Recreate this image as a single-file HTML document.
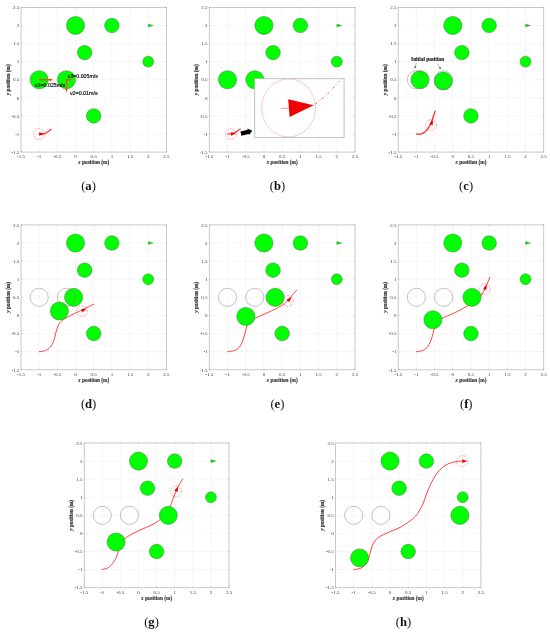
<!DOCTYPE html><html><head><meta charset="utf-8"><title>Figure</title><style>html,body{margin:0;padding:0;background:#fff}svg{display:block}text{font-family:"Liberation Serif",serif}</style></head><body>
<svg width="550" height="634" viewBox="0 0 550 634">
<rect width="550" height="634" fill="#fff"/>
<g id="plot-a">
<clipPath id="cpa"><rect x="21.00" y="7.40" width="145.40" height="144.70"/></clipPath>
<path d="M39.17 7.40 V152.10 M21.00 134.01 H166.40 M57.35 7.40 V152.10 M21.00 115.92 H166.40 M75.53 7.40 V152.10 M21.00 97.84 H166.40 M93.70 7.40 V152.10 M21.00 79.75 H166.40 M111.88 7.40 V152.10 M21.00 61.66 H166.40 M130.05 7.40 V152.10 M21.00 43.58 H166.40 M148.23 7.40 V152.10 M21.00 25.49 H166.40" stroke="#efefef" stroke-width="0.5" fill="none"/>
<g clip-path="url(#cpa)">
<path d="M39.17 134.01 C39.60 134.01 40.81 134.10 41.72 134.01 C42.63 133.92 43.60 133.83 44.63 133.47 C45.66 133.11 46.81 132.54 47.90 131.84 C48.99 131.15 50.63 129.73 51.17 129.31" stroke="#ff2222" stroke-width="1.2" fill="none" stroke-linecap="round"/>
<ellipse cx="75.53" cy="25.49" rx="9.09" ry="9.04" fill="#00ff00" stroke="#3f7a3f" stroke-width="0.5"/>
<ellipse cx="111.88" cy="25.49" rx="7.27" ry="7.23" fill="#00ff00" stroke="#3f7a3f" stroke-width="0.5"/>
<ellipse cx="84.61" cy="52.62" rx="7.27" ry="7.23" fill="#00ff00" stroke="#3f7a3f" stroke-width="0.5"/>
<ellipse cx="148.23" cy="61.66" rx="5.45" ry="5.43" fill="#00ff00" stroke="#3f7a3f" stroke-width="0.5"/>
<ellipse cx="93.70" cy="115.92" rx="7.27" ry="7.23" fill="#00ff00" stroke="#3f7a3f" stroke-width="0.5"/>
<ellipse cx="39.17" cy="79.75" rx="9.09" ry="9.04" fill="#00ff00" stroke="#3f7a3f" stroke-width="0.5"/>
<ellipse cx="66.44" cy="79.75" rx="9.09" ry="9.04" fill="#00ff00" stroke="#3f7a3f" stroke-width="0.5"/>
<path d="M148.23 23.90 L153.31 25.49 L148.23 27.08 Z" fill="#00e000" stroke="#3f7a3f" stroke-width="0.3"/>
<ellipse cx="39.17" cy="134.01" rx="5.45" ry="5.43" fill="none" stroke="#ff3030" stroke-width="0.45" stroke-dasharray="1.6 1.1"/>
<path d="M39.17 132.20 L44.26 134.01 L39.17 135.82 Z" fill="#f00000"/>
</g>
<path d="M39.17 79.75 H50.08" stroke="#e8501c" stroke-width="1.5" fill="none"/>
<path d="M52.99 79.75 l-3 -1.4 v2.8 Z" fill="#e8501c"/>
<path d="M65.71 79.75 H69.71" stroke="#e8501c" stroke-width="1.5" fill="none"/>
<path d="M71.89 79.75 l-2.4 -1.3 v2.6 Z" fill="#e8501c"/>
<path d="M66.44 79.75 V89.16" stroke="#e8501c" stroke-width="1.5" fill="none"/>
<path d="M66.44 92.05 l-1.4 -3 h2.8 Z" fill="#e8501c"/>
<text x="35.0" y="86.9" style="font-family:'Liberation Sans',sans-serif;font-size:4.9px;fill:#111;stroke:#111;stroke-width:0.18px" textLength="30.2" lengthAdjust="spacingAndGlyphs">v1=0.025m/s</text>
<text x="67.8" y="78.2" style="font-family:'Liberation Sans',sans-serif;font-size:4.9px;fill:#111;stroke:#111;stroke-width:0.18px" textLength="30" lengthAdjust="spacingAndGlyphs">v3=0.005m/s</text>
<text x="69.9" y="95.1" style="font-family:'Liberation Sans',sans-serif;font-size:4.9px;fill:#111;stroke:#111;stroke-width:0.18px" textLength="27.8" lengthAdjust="spacingAndGlyphs">v2=0.01m/s</text>
<rect x="21.00" y="7.40" width="145.40" height="144.70" fill="none" stroke="#bcbcbc" stroke-width="0.8"/>
<path d="M21.00 152.10 v-1.2 M21.00 7.40 v1.2 M21.00 152.10 h1.2 M166.40 152.10 h-1.2 M39.17 152.10 v-1.2 M39.17 7.40 v1.2 M21.00 134.01 h1.2 M166.40 134.01 h-1.2 M57.35 152.10 v-1.2 M57.35 7.40 v1.2 M21.00 115.92 h1.2 M166.40 115.92 h-1.2 M75.53 152.10 v-1.2 M75.53 7.40 v1.2 M21.00 97.84 h1.2 M166.40 97.84 h-1.2 M93.70 152.10 v-1.2 M93.70 7.40 v1.2 M21.00 79.75 h1.2 M166.40 79.75 h-1.2 M111.88 152.10 v-1.2 M111.88 7.40 v1.2 M21.00 61.66 h1.2 M166.40 61.66 h-1.2 M130.05 152.10 v-1.2 M130.05 7.40 v1.2 M21.00 43.58 h1.2 M166.40 43.58 h-1.2 M148.23 152.10 v-1.2 M148.23 7.40 v1.2 M21.00 25.49 h1.2 M166.40 25.49 h-1.2 M166.40 152.10 v-1.2 M166.40 7.40 v1.2 M21.00 7.40 h1.2 M166.40 7.40 h-1.2" stroke="#999" stroke-width="0.35" fill="none"/>
<text x="21.00" y="158.30" text-anchor="middle" style="font-size:5.0px;fill:#303030">-1.5</text>
<text x="19.30" y="153.80" text-anchor="end" style="font-size:5.0px;fill:#303030">-1.5</text>
<text x="39.17" y="158.30" text-anchor="middle" style="font-size:5.0px;fill:#303030">-1</text>
<text x="19.30" y="135.71" text-anchor="end" style="font-size:5.0px;fill:#303030">-1</text>
<text x="57.35" y="158.30" text-anchor="middle" style="font-size:5.0px;fill:#303030">-0.5</text>
<text x="19.30" y="117.62" text-anchor="end" style="font-size:5.0px;fill:#303030">-0.5</text>
<text x="75.53" y="158.30" text-anchor="middle" style="font-size:5.0px;fill:#303030">0</text>
<text x="19.30" y="99.54" text-anchor="end" style="font-size:5.0px;fill:#303030">0</text>
<text x="93.70" y="158.30" text-anchor="middle" style="font-size:5.0px;fill:#303030">0.5</text>
<text x="19.30" y="81.45" text-anchor="end" style="font-size:5.0px;fill:#303030">0.5</text>
<text x="111.88" y="158.30" text-anchor="middle" style="font-size:5.0px;fill:#303030">1</text>
<text x="19.30" y="63.36" text-anchor="end" style="font-size:5.0px;fill:#303030">1</text>
<text x="130.05" y="158.30" text-anchor="middle" style="font-size:5.0px;fill:#303030">1.5</text>
<text x="19.30" y="45.28" text-anchor="end" style="font-size:5.0px;fill:#303030">1.5</text>
<text x="148.23" y="158.30" text-anchor="middle" style="font-size:5.0px;fill:#303030">2</text>
<text x="19.30" y="27.19" text-anchor="end" style="font-size:5.0px;fill:#303030">2</text>
<text x="166.40" y="158.30" text-anchor="middle" style="font-size:5.0px;fill:#303030">2.5</text>
<text x="19.30" y="9.10" text-anchor="end" style="font-size:5.0px;fill:#303030">2.5</text>
<text x="93.70" y="164.10" text-anchor="middle" style="font-size:5.3px;font-weight:bold;fill:#303030;stroke:#303030;stroke-width:0.12px"><tspan style="font-style:italic">x</tspan> position (m)</text>
<text transform="translate(9.80 79.75) rotate(-90)" text-anchor="middle" style="font-size:5.3px;font-weight:bold;fill:#303030;stroke:#303030;stroke-width:0.12px"><tspan style="font-style:italic">y</tspan> position (m)</text>
<text x="88.50" y="190.20" text-anchor="middle" style="font-size:12.6px;fill:#111">(<tspan style="font-weight:bold">a</tspan>)</text>
</g>
<g id="plot-b">
<clipPath id="cpb"><rect x="209.30" y="7.40" width="145.70" height="144.70"/></clipPath>
<path d="M227.51 7.40 V152.10 M209.30 134.01 H355.00 M245.73 7.40 V152.10 M209.30 115.92 H355.00 M263.94 7.40 V152.10 M209.30 97.84 H355.00 M282.15 7.40 V152.10 M209.30 79.75 H355.00 M300.36 7.40 V152.10 M209.30 61.66 H355.00 M318.57 7.40 V152.10 M209.30 43.58 H355.00 M336.79 7.40 V152.10 M209.30 25.49 H355.00" stroke="#efefef" stroke-width="0.5" fill="none"/>
<g clip-path="url(#cpb)">
<path d="M227.51 134.01 C228.12 133.98 229.94 134.07 231.16 133.83 C232.37 133.59 233.70 133.08 234.80 132.57 C235.89 132.05 236.83 131.36 237.71 130.76 C238.59 130.15 239.68 129.25 240.08 128.95" stroke="#ff2222" stroke-width="1.2" fill="none" stroke-linecap="round"/>
<ellipse cx="263.94" cy="25.49" rx="9.11" ry="9.04" fill="#00ff00" stroke="#3f7a3f" stroke-width="0.5"/>
<ellipse cx="300.36" cy="25.49" rx="7.29" ry="7.23" fill="#00ff00" stroke="#3f7a3f" stroke-width="0.5"/>
<ellipse cx="273.04" cy="52.62" rx="7.29" ry="7.23" fill="#00ff00" stroke="#3f7a3f" stroke-width="0.5"/>
<ellipse cx="336.79" cy="61.66" rx="5.46" ry="5.43" fill="#00ff00" stroke="#3f7a3f" stroke-width="0.5"/>
<ellipse cx="282.15" cy="115.92" rx="7.29" ry="7.23" fill="#00ff00" stroke="#3f7a3f" stroke-width="0.5"/>
<ellipse cx="227.51" cy="79.75" rx="9.11" ry="9.04" fill="#00ff00" stroke="#3f7a3f" stroke-width="0.5"/>
<ellipse cx="254.83" cy="79.75" rx="9.11" ry="9.04" fill="#00ff00" stroke="#3f7a3f" stroke-width="0.5"/>
<path d="M336.79 23.90 L341.89 25.49 L336.79 27.08 Z" fill="#00e000" stroke="#3f7a3f" stroke-width="0.3"/>
<ellipse cx="230.94" cy="134.01" rx="5.46" ry="5.43" fill="none" stroke="#ff3030" stroke-width="0.45" stroke-dasharray="1.6 1.1"/>
<path d="M230.78 132.21 L236.02 133.57 L231.10 135.81 Z" fill="#f00000"/>
</g>
<path d="M240.9 133.6 L241.4 135.7 L248.7 133.9 L249.0 135.1 L252.2 130.7 L247.4 128.5 L247.7 129.8 L240.4 131.6 Z" fill="#000"/>
<rect x="254.7" y="78.7" width="89.4" height="58.7" fill="#fff" stroke="#b8b8b8" stroke-width="0.9"/>
<clipPath id="cpin"><rect x="255.1" y="79.1" width="88.6" height="57.9"/></clipPath>
<g clip-path="url(#cpin)">
<ellipse cx="288.6" cy="107.9" rx="26.8" ry="29.0" fill="none" stroke="#ff3030" stroke-width="0.45" stroke-dasharray="1.2 0.8"/>
<path d="M280.9 108.3 H288.8" stroke="#ff2020" stroke-width="0.5"/>
<path d="M313.6 105.3 Q325 97 339.1 81.5" stroke="#ff3030" stroke-width="0.4" stroke-dasharray="1 0.8" fill="none"/>
<circle cx="316.4" cy="103.3" r="0.55" fill="#ff3030"/>
<circle cx="322.7" cy="98.3" r="0.55" fill="#ff3030"/>
<circle cx="328.2" cy="93.3" r="0.55" fill="#ff3030"/>
<circle cx="333.6" cy="87.6" r="0.55" fill="#ff3030"/>
<circle cx="339.1" cy="81.5" r="0.55" fill="#ff3030"/>
<path d="M288.2 99.3 L313.6 105.3 L289.6 116.9 Z" fill="#f00000"/>
</g>
<rect x="209.30" y="7.40" width="145.70" height="144.70" fill="none" stroke="#bcbcbc" stroke-width="0.8"/>
<path d="M209.30 152.10 v-1.2 M209.30 7.40 v1.2 M209.30 152.10 h1.2 M355.00 152.10 h-1.2 M227.51 152.10 v-1.2 M227.51 7.40 v1.2 M209.30 134.01 h1.2 M355.00 134.01 h-1.2 M245.73 152.10 v-1.2 M245.73 7.40 v1.2 M209.30 115.92 h1.2 M355.00 115.92 h-1.2 M263.94 152.10 v-1.2 M263.94 7.40 v1.2 M209.30 97.84 h1.2 M355.00 97.84 h-1.2 M282.15 152.10 v-1.2 M282.15 7.40 v1.2 M209.30 79.75 h1.2 M355.00 79.75 h-1.2 M300.36 152.10 v-1.2 M300.36 7.40 v1.2 M209.30 61.66 h1.2 M355.00 61.66 h-1.2 M318.57 152.10 v-1.2 M318.57 7.40 v1.2 M209.30 43.58 h1.2 M355.00 43.58 h-1.2 M336.79 152.10 v-1.2 M336.79 7.40 v1.2 M209.30 25.49 h1.2 M355.00 25.49 h-1.2 M355.00 152.10 v-1.2 M355.00 7.40 v1.2 M209.30 7.40 h1.2 M355.00 7.40 h-1.2" stroke="#999" stroke-width="0.35" fill="none"/>
<text x="209.30" y="158.30" text-anchor="middle" style="font-size:5.0px;fill:#303030">-1.5</text>
<text x="207.60" y="153.80" text-anchor="end" style="font-size:5.0px;fill:#303030">-1.5</text>
<text x="227.51" y="158.30" text-anchor="middle" style="font-size:5.0px;fill:#303030">-1</text>
<text x="207.60" y="135.71" text-anchor="end" style="font-size:5.0px;fill:#303030">-1</text>
<text x="245.73" y="158.30" text-anchor="middle" style="font-size:5.0px;fill:#303030">-0.5</text>
<text x="207.60" y="117.62" text-anchor="end" style="font-size:5.0px;fill:#303030">-0.5</text>
<text x="263.94" y="158.30" text-anchor="middle" style="font-size:5.0px;fill:#303030">0</text>
<text x="207.60" y="99.54" text-anchor="end" style="font-size:5.0px;fill:#303030">0</text>
<text x="282.15" y="158.30" text-anchor="middle" style="font-size:5.0px;fill:#303030">0.5</text>
<text x="207.60" y="81.45" text-anchor="end" style="font-size:5.0px;fill:#303030">0.5</text>
<text x="300.36" y="158.30" text-anchor="middle" style="font-size:5.0px;fill:#303030">1</text>
<text x="207.60" y="63.36" text-anchor="end" style="font-size:5.0px;fill:#303030">1</text>
<text x="318.57" y="158.30" text-anchor="middle" style="font-size:5.0px;fill:#303030">1.5</text>
<text x="207.60" y="45.28" text-anchor="end" style="font-size:5.0px;fill:#303030">1.5</text>
<text x="336.79" y="158.30" text-anchor="middle" style="font-size:5.0px;fill:#303030">2</text>
<text x="207.60" y="27.19" text-anchor="end" style="font-size:5.0px;fill:#303030">2</text>
<text x="355.00" y="158.30" text-anchor="middle" style="font-size:5.0px;fill:#303030">2.5</text>
<text x="207.60" y="9.10" text-anchor="end" style="font-size:5.0px;fill:#303030">2.5</text>
<text x="282.15" y="164.10" text-anchor="middle" style="font-size:5.3px;font-weight:bold;fill:#303030;stroke:#303030;stroke-width:0.12px"><tspan style="font-style:italic">x</tspan> position (m)</text>
<text transform="translate(198.10 79.75) rotate(-90)" text-anchor="middle" style="font-size:5.3px;font-weight:bold;fill:#303030;stroke:#303030;stroke-width:0.12px"><tspan style="font-style:italic">y</tspan> position (m)</text>
<text x="277.40" y="190.20" text-anchor="middle" style="font-size:12.6px;fill:#111">(<tspan style="font-weight:bold">b</tspan>)</text>
</g>
<g id="plot-c">
<clipPath id="cpc"><rect x="398.20" y="7.40" width="145.50" height="144.70"/></clipPath>
<path d="M416.39 7.40 V152.10 M398.20 134.01 H543.70 M434.57 7.40 V152.10 M398.20 115.92 H543.70 M452.76 7.40 V152.10 M398.20 97.84 H543.70 M470.95 7.40 V152.10 M398.20 79.75 H543.70 M489.14 7.40 V152.10 M398.20 61.66 H543.70 M507.33 7.40 V152.10 M398.20 43.58 H543.70 M525.51 7.40 V152.10 M398.20 25.49 H543.70" stroke="#efefef" stroke-width="0.5" fill="none"/>
<g clip-path="url(#cpc)">
<path d="M416.39 134.01 C417.18 134.01 419.60 134.43 421.12 134.01 C422.63 133.59 424.18 132.63 425.48 131.48 C426.78 130.33 427.90 128.77 428.90 127.14 C429.90 125.51 430.70 123.64 431.48 121.71 C432.27 119.78 432.96 117.34 433.59 115.56 C434.23 113.78 435.02 111.80 435.30 111.04" stroke="#ff2222" stroke-width="1.2" fill="none" stroke-linecap="round"/>
<ellipse cx="452.76" cy="25.49" rx="9.09" ry="9.04" fill="#00ff00" stroke="#3f7a3f" stroke-width="0.5"/>
<ellipse cx="489.14" cy="25.49" rx="7.28" ry="7.23" fill="#00ff00" stroke="#3f7a3f" stroke-width="0.5"/>
<ellipse cx="461.86" cy="52.62" rx="7.28" ry="7.23" fill="#00ff00" stroke="#3f7a3f" stroke-width="0.5"/>
<ellipse cx="525.51" cy="61.66" rx="5.46" ry="5.43" fill="#00ff00" stroke="#3f7a3f" stroke-width="0.5"/>
<ellipse cx="470.95" cy="115.92" rx="7.28" ry="7.23" fill="#00ff00" stroke="#3f7a3f" stroke-width="0.5"/>
<ellipse cx="420.02" cy="79.75" rx="9.09" ry="9.04" fill="#00ff00" stroke="#3f7a3f" stroke-width="0.5"/>
<ellipse cx="443.31" cy="81.05" rx="9.09" ry="9.04" fill="#00ff00" stroke="#3f7a3f" stroke-width="0.5"/>
<ellipse cx="416.39" cy="79.75" rx="9.09" ry="9.04" fill="none" stroke="#7a7a7a" stroke-width="0.45"/>
<ellipse cx="443.67" cy="79.75" rx="9.09" ry="9.04" fill="none" stroke="#7a7a7a" stroke-width="0.45"/>
<path d="M525.51 23.90 L530.61 25.49 L525.51 27.08 Z" fill="#00e000" stroke="#3f7a3f" stroke-width="0.3"/>
<ellipse cx="430.94" cy="124.79" rx="5.46" ry="5.43" fill="none" stroke="#ff3030" stroke-width="0.45" stroke-dasharray="1.6 1.1"/>
<path d="M429.29 124.02 L433.09 120.20 L432.59 125.55 Z" fill="#f00000"/>
</g>
<text x="411.1" y="61.2" style="font-size:5.1px;font-weight:bold;fill:#222;stroke:#222;stroke-width:0.15px" textLength="33" lengthAdjust="spacingAndGlyphs">Initial position</text>
<path d="M416.3 62.9 L415.3 67.0" stroke="#222" stroke-width="0.3"/><path d="M414.9 68.6 l-0.6 -2.3 l1.9 0.4 Z" fill="#222"/>
<path d="M437.4 63.4 L439.9 67.8" stroke="#222" stroke-width="0.3"/><path d="M440.7 69.2 l-1.9 -1.4 l1.7 -0.9 Z" fill="#222"/>
<rect x="398.20" y="7.40" width="145.50" height="144.70" fill="none" stroke="#bcbcbc" stroke-width="0.8"/>
<path d="M398.20 152.10 v-1.2 M398.20 7.40 v1.2 M398.20 152.10 h1.2 M543.70 152.10 h-1.2 M416.39 152.10 v-1.2 M416.39 7.40 v1.2 M398.20 134.01 h1.2 M543.70 134.01 h-1.2 M434.57 152.10 v-1.2 M434.57 7.40 v1.2 M398.20 115.92 h1.2 M543.70 115.92 h-1.2 M452.76 152.10 v-1.2 M452.76 7.40 v1.2 M398.20 97.84 h1.2 M543.70 97.84 h-1.2 M470.95 152.10 v-1.2 M470.95 7.40 v1.2 M398.20 79.75 h1.2 M543.70 79.75 h-1.2 M489.14 152.10 v-1.2 M489.14 7.40 v1.2 M398.20 61.66 h1.2 M543.70 61.66 h-1.2 M507.33 152.10 v-1.2 M507.33 7.40 v1.2 M398.20 43.58 h1.2 M543.70 43.58 h-1.2 M525.51 152.10 v-1.2 M525.51 7.40 v1.2 M398.20 25.49 h1.2 M543.70 25.49 h-1.2 M543.70 152.10 v-1.2 M543.70 7.40 v1.2 M398.20 7.40 h1.2 M543.70 7.40 h-1.2" stroke="#999" stroke-width="0.35" fill="none"/>
<text x="398.20" y="158.30" text-anchor="middle" style="font-size:5.0px;fill:#303030">-1.5</text>
<text x="396.50" y="153.80" text-anchor="end" style="font-size:5.0px;fill:#303030">-1.5</text>
<text x="416.39" y="158.30" text-anchor="middle" style="font-size:5.0px;fill:#303030">-1</text>
<text x="396.50" y="135.71" text-anchor="end" style="font-size:5.0px;fill:#303030">-1</text>
<text x="434.57" y="158.30" text-anchor="middle" style="font-size:5.0px;fill:#303030">-0.5</text>
<text x="396.50" y="117.62" text-anchor="end" style="font-size:5.0px;fill:#303030">-0.5</text>
<text x="452.76" y="158.30" text-anchor="middle" style="font-size:5.0px;fill:#303030">0</text>
<text x="396.50" y="99.54" text-anchor="end" style="font-size:5.0px;fill:#303030">0</text>
<text x="470.95" y="158.30" text-anchor="middle" style="font-size:5.0px;fill:#303030">0.5</text>
<text x="396.50" y="81.45" text-anchor="end" style="font-size:5.0px;fill:#303030">0.5</text>
<text x="489.14" y="158.30" text-anchor="middle" style="font-size:5.0px;fill:#303030">1</text>
<text x="396.50" y="63.36" text-anchor="end" style="font-size:5.0px;fill:#303030">1</text>
<text x="507.33" y="158.30" text-anchor="middle" style="font-size:5.0px;fill:#303030">1.5</text>
<text x="396.50" y="45.28" text-anchor="end" style="font-size:5.0px;fill:#303030">1.5</text>
<text x="525.51" y="158.30" text-anchor="middle" style="font-size:5.0px;fill:#303030">2</text>
<text x="396.50" y="27.19" text-anchor="end" style="font-size:5.0px;fill:#303030">2</text>
<text x="543.70" y="158.30" text-anchor="middle" style="font-size:5.0px;fill:#303030">2.5</text>
<text x="396.50" y="9.10" text-anchor="end" style="font-size:5.0px;fill:#303030">2.5</text>
<text x="470.95" y="164.10" text-anchor="middle" style="font-size:5.3px;font-weight:bold;fill:#303030;stroke:#303030;stroke-width:0.12px"><tspan style="font-style:italic">x</tspan> position (m)</text>
<text transform="translate(387.00 79.75) rotate(-90)" text-anchor="middle" style="font-size:5.3px;font-weight:bold;fill:#303030;stroke:#303030;stroke-width:0.12px"><tspan style="font-style:italic">y</tspan> position (m)</text>
<text x="466.10" y="190.20" text-anchor="middle" style="font-size:12.6px;fill:#111">(<tspan style="font-weight:bold">c</tspan>)</text>
</g>
<g id="plot-d">
<clipPath id="cpd"><rect x="21.00" y="224.90" width="145.40" height="144.90"/></clipPath>
<path d="M39.17 224.90 V369.80 M21.00 351.69 H166.40 M57.35 224.90 V369.80 M21.00 333.57 H166.40 M75.53 224.90 V369.80 M21.00 315.46 H166.40 M93.70 224.90 V369.80 M21.00 297.35 H166.40 M111.88 224.90 V369.80 M21.00 279.24 H166.40 M130.05 224.90 V369.80 M21.00 261.12 H166.40 M148.23 224.90 V369.80 M21.00 243.01 H166.40" stroke="#efefef" stroke-width="0.5" fill="none"/>
<g clip-path="url(#cpd)">
<path d="M39.17 351.69 C40.20 351.51 43.54 351.33 45.35 350.60 C47.17 349.88 48.69 348.97 50.08 347.34 C51.47 345.71 52.69 343.54 53.72 340.82 C54.74 338.10 55.35 333.88 56.26 331.04 C57.17 328.20 58.08 325.61 59.17 323.79 C60.26 321.98 61.47 321.26 62.80 320.17 C64.14 319.08 65.23 318.36 67.16 317.27 C69.10 316.19 72.01 314.86 74.43 313.65 C76.86 312.44 78.49 311.60 81.70 310.03 C84.92 308.46 91.70 305.20 93.70 304.23" stroke="#ff2222" stroke-width="0.85" fill="none" stroke-linecap="round"/>
<ellipse cx="75.53" cy="243.01" rx="9.09" ry="9.06" fill="#00ff00" stroke="#3f7a3f" stroke-width="0.5"/>
<ellipse cx="111.88" cy="243.01" rx="7.27" ry="7.25" fill="#00ff00" stroke="#3f7a3f" stroke-width="0.5"/>
<ellipse cx="84.61" cy="270.18" rx="7.27" ry="7.25" fill="#00ff00" stroke="#3f7a3f" stroke-width="0.5"/>
<ellipse cx="148.23" cy="279.24" rx="5.45" ry="5.43" fill="#00ff00" stroke="#3f7a3f" stroke-width="0.5"/>
<ellipse cx="93.70" cy="333.57" rx="7.27" ry="7.25" fill="#00ff00" stroke="#3f7a3f" stroke-width="0.5"/>
<ellipse cx="73.60" cy="297.35" rx="9.09" ry="9.06" fill="#00ff00" stroke="#3f7a3f" stroke-width="0.5"/>
<ellipse cx="59.42" cy="311.01" rx="9.09" ry="9.06" fill="#00ff00" stroke="#3f7a3f" stroke-width="0.5"/>
<ellipse cx="39.17" cy="297.35" rx="9.09" ry="9.06" fill="none" stroke="#7a7a7a" stroke-width="0.45"/>
<ellipse cx="66.44" cy="297.35" rx="9.09" ry="9.06" fill="none" stroke="#7a7a7a" stroke-width="0.45"/>
<path d="M148.23 241.42 L153.31 243.01 L148.23 244.61 Z" fill="#00e000" stroke="#3f7a3f" stroke-width="0.3"/>
<ellipse cx="81.78" cy="310.93" rx="5.45" ry="5.43" fill="none" stroke="#ff3030" stroke-width="0.45" stroke-dasharray="1.6 1.1"/>
<path d="M81.04 309.28 L86.43 308.87 L82.52 312.59 Z" fill="#f00000"/>
</g>
<rect x="21.00" y="224.90" width="145.40" height="144.90" fill="none" stroke="#bcbcbc" stroke-width="0.8"/>
<path d="M21.00 369.80 v-1.2 M21.00 224.90 v1.2 M21.00 369.80 h1.2 M166.40 369.80 h-1.2 M39.17 369.80 v-1.2 M39.17 224.90 v1.2 M21.00 351.69 h1.2 M166.40 351.69 h-1.2 M57.35 369.80 v-1.2 M57.35 224.90 v1.2 M21.00 333.57 h1.2 M166.40 333.57 h-1.2 M75.53 369.80 v-1.2 M75.53 224.90 v1.2 M21.00 315.46 h1.2 M166.40 315.46 h-1.2 M93.70 369.80 v-1.2 M93.70 224.90 v1.2 M21.00 297.35 h1.2 M166.40 297.35 h-1.2 M111.88 369.80 v-1.2 M111.88 224.90 v1.2 M21.00 279.24 h1.2 M166.40 279.24 h-1.2 M130.05 369.80 v-1.2 M130.05 224.90 v1.2 M21.00 261.12 h1.2 M166.40 261.12 h-1.2 M148.23 369.80 v-1.2 M148.23 224.90 v1.2 M21.00 243.01 h1.2 M166.40 243.01 h-1.2 M166.40 369.80 v-1.2 M166.40 224.90 v1.2 M21.00 224.90 h1.2 M166.40 224.90 h-1.2" stroke="#999" stroke-width="0.35" fill="none"/>
<text x="21.00" y="376.00" text-anchor="middle" style="font-size:5.0px;fill:#303030">-1.5</text>
<text x="19.30" y="371.50" text-anchor="end" style="font-size:5.0px;fill:#303030">-1.5</text>
<text x="39.17" y="376.00" text-anchor="middle" style="font-size:5.0px;fill:#303030">-1</text>
<text x="19.30" y="353.39" text-anchor="end" style="font-size:5.0px;fill:#303030">-1</text>
<text x="57.35" y="376.00" text-anchor="middle" style="font-size:5.0px;fill:#303030">-0.5</text>
<text x="19.30" y="335.27" text-anchor="end" style="font-size:5.0px;fill:#303030">-0.5</text>
<text x="75.53" y="376.00" text-anchor="middle" style="font-size:5.0px;fill:#303030">0</text>
<text x="19.30" y="317.16" text-anchor="end" style="font-size:5.0px;fill:#303030">0</text>
<text x="93.70" y="376.00" text-anchor="middle" style="font-size:5.0px;fill:#303030">0.5</text>
<text x="19.30" y="299.05" text-anchor="end" style="font-size:5.0px;fill:#303030">0.5</text>
<text x="111.88" y="376.00" text-anchor="middle" style="font-size:5.0px;fill:#303030">1</text>
<text x="19.30" y="280.94" text-anchor="end" style="font-size:5.0px;fill:#303030">1</text>
<text x="130.05" y="376.00" text-anchor="middle" style="font-size:5.0px;fill:#303030">1.5</text>
<text x="19.30" y="262.82" text-anchor="end" style="font-size:5.0px;fill:#303030">1.5</text>
<text x="148.23" y="376.00" text-anchor="middle" style="font-size:5.0px;fill:#303030">2</text>
<text x="19.30" y="244.71" text-anchor="end" style="font-size:5.0px;fill:#303030">2</text>
<text x="166.40" y="376.00" text-anchor="middle" style="font-size:5.0px;fill:#303030">2.5</text>
<text x="19.30" y="226.60" text-anchor="end" style="font-size:5.0px;fill:#303030">2.5</text>
<text x="93.70" y="381.80" text-anchor="middle" style="font-size:5.3px;font-weight:bold;fill:#303030;stroke:#303030;stroke-width:0.12px"><tspan style="font-style:italic">x</tspan> position (m)</text>
<text transform="translate(9.80 297.35) rotate(-90)" text-anchor="middle" style="font-size:5.3px;font-weight:bold;fill:#303030;stroke:#303030;stroke-width:0.12px"><tspan style="font-style:italic">y</tspan> position (m)</text>
<text x="88.60" y="408.00" text-anchor="middle" style="font-size:12.6px;fill:#111">(<tspan style="font-weight:bold">d</tspan>)</text>
</g>
<g id="plot-e">
<clipPath id="cpe"><rect x="209.30" y="224.90" width="145.70" height="144.90"/></clipPath>
<path d="M227.51 224.90 V369.80 M209.30 351.69 H355.00 M245.73 224.90 V369.80 M209.30 333.57 H355.00 M263.94 224.90 V369.80 M209.30 315.46 H355.00 M282.15 224.90 V369.80 M209.30 297.35 H355.00 M300.36 224.90 V369.80 M209.30 279.24 H355.00 M318.57 224.90 V369.80 M209.30 261.12 H355.00 M336.79 224.90 V369.80 M209.30 243.01 H355.00" stroke="#efefef" stroke-width="0.5" fill="none"/>
<g clip-path="url(#cpe)">
<path d="M227.51 351.69 C228.67 351.51 232.49 351.33 234.43 350.60 C236.38 349.88 237.77 348.97 239.17 347.34 C240.56 345.71 241.84 343.24 242.81 340.82 C243.78 338.40 244.25 335.41 245.00 332.85 C245.74 330.29 246.32 327.45 247.29 325.46 C248.26 323.47 249.46 322.11 250.82 320.90 C252.19 319.68 253.20 319.33 255.49 318.18 C257.78 317.03 261.53 315.40 264.56 314.01 C267.59 312.62 270.63 311.36 273.66 309.85 C276.70 308.34 280.34 306.60 282.77 304.96 C285.20 303.32 286.58 301.73 288.23 299.99 C289.89 298.26 291.26 296.17 292.71 294.52 C294.17 292.88 296.26 290.84 296.97 290.11" stroke="#ff2222" stroke-width="0.85" fill="none" stroke-linecap="round"/>
<ellipse cx="263.94" cy="243.01" rx="9.11" ry="9.06" fill="#00ff00" stroke="#3f7a3f" stroke-width="0.5"/>
<ellipse cx="300.36" cy="243.01" rx="7.29" ry="7.25" fill="#00ff00" stroke="#3f7a3f" stroke-width="0.5"/>
<ellipse cx="273.04" cy="270.18" rx="7.29" ry="7.25" fill="#00ff00" stroke="#3f7a3f" stroke-width="0.5"/>
<ellipse cx="336.79" cy="279.24" rx="5.46" ry="5.43" fill="#00ff00" stroke="#3f7a3f" stroke-width="0.5"/>
<ellipse cx="282.15" cy="333.57" rx="7.29" ry="7.25" fill="#00ff00" stroke="#3f7a3f" stroke-width="0.5"/>
<ellipse cx="275.12" cy="297.35" rx="9.11" ry="9.06" fill="#00ff00" stroke="#3f7a3f" stroke-width="0.5"/>
<ellipse cx="245.83" cy="316.48" rx="9.11" ry="9.06" fill="#00ff00" stroke="#3f7a3f" stroke-width="0.5"/>
<ellipse cx="227.51" cy="297.35" rx="9.11" ry="9.06" fill="none" stroke="#7a7a7a" stroke-width="0.45"/>
<ellipse cx="254.83" cy="297.35" rx="9.11" ry="9.06" fill="none" stroke="#7a7a7a" stroke-width="0.45"/>
<path d="M336.79 241.42 L341.89 243.01 L336.79 244.61 Z" fill="#00e000" stroke="#3f7a3f" stroke-width="0.3"/>
<ellipse cx="287.87" cy="300.90" rx="5.46" ry="5.43" fill="none" stroke="#ff3030" stroke-width="0.45" stroke-dasharray="1.6 1.1"/>
<path d="M286.58 299.62 L291.47 297.31 L289.16 302.18 Z" fill="#f00000"/>
</g>
<rect x="209.30" y="224.90" width="145.70" height="144.90" fill="none" stroke="#bcbcbc" stroke-width="0.8"/>
<path d="M209.30 369.80 v-1.2 M209.30 224.90 v1.2 M209.30 369.80 h1.2 M355.00 369.80 h-1.2 M227.51 369.80 v-1.2 M227.51 224.90 v1.2 M209.30 351.69 h1.2 M355.00 351.69 h-1.2 M245.73 369.80 v-1.2 M245.73 224.90 v1.2 M209.30 333.57 h1.2 M355.00 333.57 h-1.2 M263.94 369.80 v-1.2 M263.94 224.90 v1.2 M209.30 315.46 h1.2 M355.00 315.46 h-1.2 M282.15 369.80 v-1.2 M282.15 224.90 v1.2 M209.30 297.35 h1.2 M355.00 297.35 h-1.2 M300.36 369.80 v-1.2 M300.36 224.90 v1.2 M209.30 279.24 h1.2 M355.00 279.24 h-1.2 M318.57 369.80 v-1.2 M318.57 224.90 v1.2 M209.30 261.12 h1.2 M355.00 261.12 h-1.2 M336.79 369.80 v-1.2 M336.79 224.90 v1.2 M209.30 243.01 h1.2 M355.00 243.01 h-1.2 M355.00 369.80 v-1.2 M355.00 224.90 v1.2 M209.30 224.90 h1.2 M355.00 224.90 h-1.2" stroke="#999" stroke-width="0.35" fill="none"/>
<text x="209.30" y="376.00" text-anchor="middle" style="font-size:5.0px;fill:#303030">-1.5</text>
<text x="207.60" y="371.50" text-anchor="end" style="font-size:5.0px;fill:#303030">-1.5</text>
<text x="227.51" y="376.00" text-anchor="middle" style="font-size:5.0px;fill:#303030">-1</text>
<text x="207.60" y="353.39" text-anchor="end" style="font-size:5.0px;fill:#303030">-1</text>
<text x="245.73" y="376.00" text-anchor="middle" style="font-size:5.0px;fill:#303030">-0.5</text>
<text x="207.60" y="335.27" text-anchor="end" style="font-size:5.0px;fill:#303030">-0.5</text>
<text x="263.94" y="376.00" text-anchor="middle" style="font-size:5.0px;fill:#303030">0</text>
<text x="207.60" y="317.16" text-anchor="end" style="font-size:5.0px;fill:#303030">0</text>
<text x="282.15" y="376.00" text-anchor="middle" style="font-size:5.0px;fill:#303030">0.5</text>
<text x="207.60" y="299.05" text-anchor="end" style="font-size:5.0px;fill:#303030">0.5</text>
<text x="300.36" y="376.00" text-anchor="middle" style="font-size:5.0px;fill:#303030">1</text>
<text x="207.60" y="280.94" text-anchor="end" style="font-size:5.0px;fill:#303030">1</text>
<text x="318.57" y="376.00" text-anchor="middle" style="font-size:5.0px;fill:#303030">1.5</text>
<text x="207.60" y="262.82" text-anchor="end" style="font-size:5.0px;fill:#303030">1.5</text>
<text x="336.79" y="376.00" text-anchor="middle" style="font-size:5.0px;fill:#303030">2</text>
<text x="207.60" y="244.71" text-anchor="end" style="font-size:5.0px;fill:#303030">2</text>
<text x="355.00" y="376.00" text-anchor="middle" style="font-size:5.0px;fill:#303030">2.5</text>
<text x="207.60" y="226.60" text-anchor="end" style="font-size:5.0px;fill:#303030">2.5</text>
<text x="282.15" y="381.80" text-anchor="middle" style="font-size:5.3px;font-weight:bold;fill:#303030;stroke:#303030;stroke-width:0.12px"><tspan style="font-style:italic">x</tspan> position (m)</text>
<text transform="translate(198.10 297.35) rotate(-90)" text-anchor="middle" style="font-size:5.3px;font-weight:bold;fill:#303030;stroke:#303030;stroke-width:0.12px"><tspan style="font-style:italic">y</tspan> position (m)</text>
<text x="277.40" y="408.00" text-anchor="middle" style="font-size:12.6px;fill:#111">(<tspan style="font-weight:bold">e</tspan>)</text>
</g>
<g id="plot-f">
<clipPath id="cpf"><rect x="398.20" y="224.90" width="145.50" height="144.90"/></clipPath>
<path d="M416.39 224.90 V369.80 M398.20 351.69 H543.70 M434.57 224.90 V369.80 M398.20 333.57 H543.70 M452.76 224.90 V369.80 M398.20 315.46 H543.70 M470.95 224.90 V369.80 M398.20 297.35 H543.70 M489.14 224.90 V369.80 M398.20 279.24 H543.70 M507.33 224.90 V369.80 M398.20 261.12 H543.70 M525.51 224.90 V369.80 M398.20 243.01 H543.70" stroke="#efefef" stroke-width="0.5" fill="none"/>
<g clip-path="url(#cpf)">
<path d="M416.39 351.69 C417.50 351.46 421.12 351.30 423.08 350.35 C425.04 349.40 426.72 348.06 428.17 346.00 C429.63 343.94 430.84 340.78 431.81 337.99 C432.78 335.21 433.05 331.87 433.99 329.26 C434.94 326.66 436.15 324.16 437.49 322.35 C438.82 320.53 439.30 319.87 442.00 318.36 C444.69 316.85 450.48 314.74 453.64 313.29 C456.79 311.83 458.49 310.96 460.91 309.63 C463.34 308.30 465.78 306.73 468.19 305.28 C470.59 303.84 473.13 302.60 475.32 300.97 C477.50 299.35 479.58 297.81 481.28 295.54 C482.98 293.27 484.05 290.39 485.50 287.35 C486.95 284.32 489.26 278.99 490.01 277.32" stroke="#ff2222" stroke-width="0.85" fill="none" stroke-linecap="round"/>
<ellipse cx="452.76" cy="243.01" rx="9.09" ry="9.06" fill="#00ff00" stroke="#3f7a3f" stroke-width="0.5"/>
<ellipse cx="489.14" cy="243.01" rx="7.28" ry="7.25" fill="#00ff00" stroke="#3f7a3f" stroke-width="0.5"/>
<ellipse cx="461.86" cy="270.18" rx="7.28" ry="7.25" fill="#00ff00" stroke="#3f7a3f" stroke-width="0.5"/>
<ellipse cx="525.51" cy="279.24" rx="5.46" ry="5.43" fill="#00ff00" stroke="#3f7a3f" stroke-width="0.5"/>
<ellipse cx="470.95" cy="333.57" rx="7.28" ry="7.25" fill="#00ff00" stroke="#3f7a3f" stroke-width="0.5"/>
<ellipse cx="472.00" cy="297.35" rx="9.09" ry="9.06" fill="#00ff00" stroke="#3f7a3f" stroke-width="0.5"/>
<ellipse cx="432.90" cy="319.74" rx="9.09" ry="9.06" fill="#00ff00" stroke="#3f7a3f" stroke-width="0.5"/>
<ellipse cx="416.39" cy="297.35" rx="9.09" ry="9.06" fill="none" stroke="#7a7a7a" stroke-width="0.45"/>
<ellipse cx="443.67" cy="297.35" rx="9.09" ry="9.06" fill="none" stroke="#7a7a7a" stroke-width="0.45"/>
<path d="M525.51 241.42 L530.61 243.01 L525.51 244.61 Z" fill="#00e000" stroke="#3f7a3f" stroke-width="0.3"/>
<ellipse cx="484.74" cy="289.16" rx="5.46" ry="5.43" fill="none" stroke="#ff3030" stroke-width="0.45" stroke-dasharray="1.6 1.1"/>
<path d="M483.09 288.40 L486.89 284.57 L486.38 289.93 Z" fill="#f00000"/>
</g>
<rect x="398.20" y="224.90" width="145.50" height="144.90" fill="none" stroke="#bcbcbc" stroke-width="0.8"/>
<path d="M398.20 369.80 v-1.2 M398.20 224.90 v1.2 M398.20 369.80 h1.2 M543.70 369.80 h-1.2 M416.39 369.80 v-1.2 M416.39 224.90 v1.2 M398.20 351.69 h1.2 M543.70 351.69 h-1.2 M434.57 369.80 v-1.2 M434.57 224.90 v1.2 M398.20 333.57 h1.2 M543.70 333.57 h-1.2 M452.76 369.80 v-1.2 M452.76 224.90 v1.2 M398.20 315.46 h1.2 M543.70 315.46 h-1.2 M470.95 369.80 v-1.2 M470.95 224.90 v1.2 M398.20 297.35 h1.2 M543.70 297.35 h-1.2 M489.14 369.80 v-1.2 M489.14 224.90 v1.2 M398.20 279.24 h1.2 M543.70 279.24 h-1.2 M507.33 369.80 v-1.2 M507.33 224.90 v1.2 M398.20 261.12 h1.2 M543.70 261.12 h-1.2 M525.51 369.80 v-1.2 M525.51 224.90 v1.2 M398.20 243.01 h1.2 M543.70 243.01 h-1.2 M543.70 369.80 v-1.2 M543.70 224.90 v1.2 M398.20 224.90 h1.2 M543.70 224.90 h-1.2" stroke="#999" stroke-width="0.35" fill="none"/>
<text x="398.20" y="376.00" text-anchor="middle" style="font-size:5.0px;fill:#303030">-1.5</text>
<text x="396.50" y="371.50" text-anchor="end" style="font-size:5.0px;fill:#303030">-1.5</text>
<text x="416.39" y="376.00" text-anchor="middle" style="font-size:5.0px;fill:#303030">-1</text>
<text x="396.50" y="353.39" text-anchor="end" style="font-size:5.0px;fill:#303030">-1</text>
<text x="434.57" y="376.00" text-anchor="middle" style="font-size:5.0px;fill:#303030">-0.5</text>
<text x="396.50" y="335.27" text-anchor="end" style="font-size:5.0px;fill:#303030">-0.5</text>
<text x="452.76" y="376.00" text-anchor="middle" style="font-size:5.0px;fill:#303030">0</text>
<text x="396.50" y="317.16" text-anchor="end" style="font-size:5.0px;fill:#303030">0</text>
<text x="470.95" y="376.00" text-anchor="middle" style="font-size:5.0px;fill:#303030">0.5</text>
<text x="396.50" y="299.05" text-anchor="end" style="font-size:5.0px;fill:#303030">0.5</text>
<text x="489.14" y="376.00" text-anchor="middle" style="font-size:5.0px;fill:#303030">1</text>
<text x="396.50" y="280.94" text-anchor="end" style="font-size:5.0px;fill:#303030">1</text>
<text x="507.33" y="376.00" text-anchor="middle" style="font-size:5.0px;fill:#303030">1.5</text>
<text x="396.50" y="262.82" text-anchor="end" style="font-size:5.0px;fill:#303030">1.5</text>
<text x="525.51" y="376.00" text-anchor="middle" style="font-size:5.0px;fill:#303030">2</text>
<text x="396.50" y="244.71" text-anchor="end" style="font-size:5.0px;fill:#303030">2</text>
<text x="543.70" y="376.00" text-anchor="middle" style="font-size:5.0px;fill:#303030">2.5</text>
<text x="396.50" y="226.60" text-anchor="end" style="font-size:5.0px;fill:#303030">2.5</text>
<text x="470.95" y="381.80" text-anchor="middle" style="font-size:5.3px;font-weight:bold;fill:#303030;stroke:#303030;stroke-width:0.12px"><tspan style="font-style:italic">x</tspan> position (m)</text>
<text transform="translate(387.00 297.35) rotate(-90)" text-anchor="middle" style="font-size:5.3px;font-weight:bold;fill:#303030;stroke:#303030;stroke-width:0.12px"><tspan style="font-style:italic">y</tspan> position (m)</text>
<text x="466.25" y="408.00" text-anchor="middle" style="font-size:12.6px;fill:#111">(<tspan style="font-weight:bold">f</tspan>)</text>
</g>
<g id="plot-g">
<clipPath id="cpg"><rect x="84.20" y="443.00" width="144.80" height="144.70"/></clipPath>
<path d="M102.30 443.00 V587.70 M84.20 569.61 H229.00 M120.40 443.00 V587.70 M84.20 551.53 H229.00 M138.50 443.00 V587.70 M84.20 533.44 H229.00 M156.60 443.00 V587.70 M84.20 515.35 H229.00 M174.70 443.00 V587.70 M84.20 497.26 H229.00 M192.80 443.00 V587.70 M84.20 479.18 H229.00 M210.90 443.00 V587.70 M84.20 461.09 H229.00" stroke="#efefef" stroke-width="0.5" fill="none"/>
<g clip-path="url(#cpg)">
<path d="M102.30 569.61 C103.27 569.31 106.28 568.95 108.09 567.80 C109.90 566.66 111.71 564.67 113.16 562.74 C114.61 560.81 115.88 558.29 116.78 556.23 C117.68 554.17 117.71 552.54 118.55 550.37 C119.40 548.20 120.80 545.15 121.85 543.20 C122.89 541.26 123.23 540.19 124.82 538.72 C126.40 537.25 129.06 535.71 131.37 534.38 C133.67 533.05 136.22 531.86 138.64 530.72 C141.07 529.58 143.50 528.63 145.92 527.54 C148.35 526.45 150.90 525.46 153.20 524.18 C155.50 522.89 157.64 521.49 159.71 519.84 C161.79 518.18 163.94 516.40 165.65 514.26 C167.36 512.13 168.61 510.07 169.99 507.03 C171.38 503.99 172.65 499.31 173.98 496.00 C175.30 492.68 176.52 489.97 177.96 487.13 C179.39 484.30 181.82 480.35 182.59 478.99" stroke="#ff2222" stroke-width="0.85" fill="none" stroke-linecap="round"/>
<ellipse cx="138.50" cy="461.09" rx="9.05" ry="9.04" fill="#00ff00" stroke="#3f7a3f" stroke-width="0.5"/>
<ellipse cx="174.70" cy="461.09" rx="7.24" ry="7.24" fill="#00ff00" stroke="#3f7a3f" stroke-width="0.5"/>
<ellipse cx="147.55" cy="488.22" rx="7.24" ry="7.24" fill="#00ff00" stroke="#3f7a3f" stroke-width="0.5"/>
<ellipse cx="210.90" cy="497.26" rx="5.43" ry="5.43" fill="#00ff00" stroke="#3f7a3f" stroke-width="0.5"/>
<ellipse cx="156.60" cy="551.53" rx="7.24" ry="7.24" fill="#00ff00" stroke="#3f7a3f" stroke-width="0.5"/>
<ellipse cx="168.29" cy="515.35" rx="9.05" ry="9.04" fill="#00ff00" stroke="#3f7a3f" stroke-width="0.5"/>
<ellipse cx="116.09" cy="542.01" rx="9.05" ry="9.04" fill="#00ff00" stroke="#3f7a3f" stroke-width="0.5"/>
<ellipse cx="102.30" cy="515.35" rx="9.05" ry="9.04" fill="none" stroke="#7a7a7a" stroke-width="0.45"/>
<ellipse cx="129.45" cy="515.35" rx="9.05" ry="9.04" fill="none" stroke="#7a7a7a" stroke-width="0.45"/>
<path d="M210.90 459.50 L215.97 461.09 L210.90 462.68 Z" fill="#00e000" stroke="#3f7a3f" stroke-width="0.3"/>
<ellipse cx="176.00" cy="491.29" rx="5.43" ry="5.43" fill="none" stroke="#ff3030" stroke-width="0.45" stroke-dasharray="1.6 1.1"/>
<path d="M174.32 490.62 L177.90 486.60 L177.68 491.97 Z" fill="#f00000"/>
</g>
<rect x="84.20" y="443.00" width="144.80" height="144.70" fill="none" stroke="#bcbcbc" stroke-width="0.8"/>
<path d="M84.20 587.70 v-1.2 M84.20 443.00 v1.2 M84.20 587.70 h1.2 M229.00 587.70 h-1.2 M102.30 587.70 v-1.2 M102.30 443.00 v1.2 M84.20 569.61 h1.2 M229.00 569.61 h-1.2 M120.40 587.70 v-1.2 M120.40 443.00 v1.2 M84.20 551.53 h1.2 M229.00 551.53 h-1.2 M138.50 587.70 v-1.2 M138.50 443.00 v1.2 M84.20 533.44 h1.2 M229.00 533.44 h-1.2 M156.60 587.70 v-1.2 M156.60 443.00 v1.2 M84.20 515.35 h1.2 M229.00 515.35 h-1.2 M174.70 587.70 v-1.2 M174.70 443.00 v1.2 M84.20 497.26 h1.2 M229.00 497.26 h-1.2 M192.80 587.70 v-1.2 M192.80 443.00 v1.2 M84.20 479.18 h1.2 M229.00 479.18 h-1.2 M210.90 587.70 v-1.2 M210.90 443.00 v1.2 M84.20 461.09 h1.2 M229.00 461.09 h-1.2 M229.00 587.70 v-1.2 M229.00 443.00 v1.2 M84.20 443.00 h1.2 M229.00 443.00 h-1.2" stroke="#999" stroke-width="0.35" fill="none"/>
<text x="84.20" y="593.90" text-anchor="middle" style="font-size:5.0px;fill:#303030">-1.5</text>
<text x="82.50" y="589.40" text-anchor="end" style="font-size:5.0px;fill:#303030">-1.5</text>
<text x="102.30" y="593.90" text-anchor="middle" style="font-size:5.0px;fill:#303030">-1</text>
<text x="82.50" y="571.31" text-anchor="end" style="font-size:5.0px;fill:#303030">-1</text>
<text x="120.40" y="593.90" text-anchor="middle" style="font-size:5.0px;fill:#303030">-0.5</text>
<text x="82.50" y="553.23" text-anchor="end" style="font-size:5.0px;fill:#303030">-0.5</text>
<text x="138.50" y="593.90" text-anchor="middle" style="font-size:5.0px;fill:#303030">0</text>
<text x="82.50" y="535.14" text-anchor="end" style="font-size:5.0px;fill:#303030">0</text>
<text x="156.60" y="593.90" text-anchor="middle" style="font-size:5.0px;fill:#303030">0.5</text>
<text x="82.50" y="517.05" text-anchor="end" style="font-size:5.0px;fill:#303030">0.5</text>
<text x="174.70" y="593.90" text-anchor="middle" style="font-size:5.0px;fill:#303030">1</text>
<text x="82.50" y="498.96" text-anchor="end" style="font-size:5.0px;fill:#303030">1</text>
<text x="192.80" y="593.90" text-anchor="middle" style="font-size:5.0px;fill:#303030">1.5</text>
<text x="82.50" y="480.88" text-anchor="end" style="font-size:5.0px;fill:#303030">1.5</text>
<text x="210.90" y="593.90" text-anchor="middle" style="font-size:5.0px;fill:#303030">2</text>
<text x="82.50" y="462.79" text-anchor="end" style="font-size:5.0px;fill:#303030">2</text>
<text x="229.00" y="593.90" text-anchor="middle" style="font-size:5.0px;fill:#303030">2.5</text>
<text x="82.50" y="444.70" text-anchor="end" style="font-size:5.0px;fill:#303030">2.5</text>
<text x="156.60" y="599.70" text-anchor="middle" style="font-size:5.3px;font-weight:bold;fill:#303030;stroke:#303030;stroke-width:0.12px"><tspan style="font-style:italic">x</tspan> position (m)</text>
<text transform="translate(73.00 515.35) rotate(-90)" text-anchor="middle" style="font-size:5.3px;font-weight:bold;fill:#303030;stroke:#303030;stroke-width:0.12px"><tspan style="font-style:italic">y</tspan> position (m)</text>
<text x="151.50" y="625.90" text-anchor="middle" style="font-size:12.6px;fill:#111">(<tspan style="font-weight:bold">g</tspan>)</text>
</g>
<g id="plot-h">
<clipPath id="cph"><rect x="335.50" y="443.00" width="145.40" height="144.70"/></clipPath>
<path d="M353.68 443.00 V587.70 M335.50 569.61 H480.90 M371.85 443.00 V587.70 M335.50 551.53 H480.90 M390.02 443.00 V587.70 M335.50 533.44 H480.90 M408.20 443.00 V587.70 M335.50 515.35 H480.90 M426.38 443.00 V587.70 M335.50 497.26 H480.90 M444.55 443.00 V587.70 M335.50 479.18 H480.90 M462.72 443.00 V587.70 M335.50 461.09 H480.90" stroke="#efefef" stroke-width="0.5" fill="none"/>
<g clip-path="url(#cph)">
<path d="M353.68 569.61 C354.79 569.40 358.52 569.04 360.36 568.35 C362.21 567.65 363.39 566.91 364.73 565.45 C366.06 564.00 367.39 562.05 368.36 559.63 C369.33 557.20 369.69 553.70 370.54 550.91 C371.39 548.12 372.24 545.10 373.45 542.92 C374.66 540.73 376.12 539.20 377.81 537.81 C379.51 536.43 381.45 535.72 383.63 534.63 C385.81 533.54 388.47 532.31 390.90 531.27 C393.32 530.22 395.99 529.43 398.17 528.37 C400.35 527.32 401.89 526.26 403.98 524.94 C406.08 523.61 408.80 521.90 410.74 520.41 C412.69 518.93 414.23 517.57 415.65 516.00 C417.08 514.43 418.01 513.14 419.29 511.01 C420.56 508.87 422.01 506.20 423.29 503.20 C424.56 500.19 425.59 496.39 426.92 492.99 C428.25 489.60 429.71 485.98 431.28 482.83 C432.86 479.68 434.55 476.65 436.37 474.11 C438.19 471.57 440.25 469.30 442.19 467.60 C444.13 465.90 445.82 464.89 448.00 463.91 C450.18 462.93 452.91 462.21 455.27 461.74 C457.64 461.27 461.03 461.20 462.18 461.09" stroke="#ff2222" stroke-width="0.85" fill="none" stroke-linecap="round"/>
<ellipse cx="390.02" cy="461.09" rx="9.09" ry="9.04" fill="#00ff00" stroke="#3f7a3f" stroke-width="0.5"/>
<ellipse cx="426.38" cy="461.09" rx="7.27" ry="7.24" fill="#00ff00" stroke="#3f7a3f" stroke-width="0.5"/>
<ellipse cx="399.11" cy="488.22" rx="7.27" ry="7.24" fill="#00ff00" stroke="#3f7a3f" stroke-width="0.5"/>
<ellipse cx="462.72" cy="497.26" rx="5.45" ry="5.43" fill="#00ff00" stroke="#3f7a3f" stroke-width="0.5"/>
<ellipse cx="408.20" cy="551.53" rx="7.27" ry="7.24" fill="#00ff00" stroke="#3f7a3f" stroke-width="0.5"/>
<ellipse cx="459.89" cy="515.35" rx="9.09" ry="9.04" fill="#00ff00" stroke="#3f7a3f" stroke-width="0.5"/>
<ellipse cx="359.60" cy="557.93" rx="9.09" ry="9.04" fill="#00ff00" stroke="#3f7a3f" stroke-width="0.5"/>
<ellipse cx="353.68" cy="515.35" rx="9.09" ry="9.04" fill="none" stroke="#7a7a7a" stroke-width="0.45"/>
<ellipse cx="380.94" cy="515.35" rx="9.09" ry="9.04" fill="none" stroke="#7a7a7a" stroke-width="0.45"/>
<ellipse cx="462.18" cy="461.09" rx="5.45" ry="5.43" fill="none" stroke="#ff3030" stroke-width="0.45" stroke-dasharray="1.6 1.1"/>
<path d="M462.18 459.28 L467.27 461.09 L462.18 462.90 Z" fill="#f00000"/>
</g>
<rect x="335.50" y="443.00" width="145.40" height="144.70" fill="none" stroke="#bcbcbc" stroke-width="0.8"/>
<path d="M335.50 587.70 v-1.2 M335.50 443.00 v1.2 M335.50 587.70 h1.2 M480.90 587.70 h-1.2 M353.68 587.70 v-1.2 M353.68 443.00 v1.2 M335.50 569.61 h1.2 M480.90 569.61 h-1.2 M371.85 587.70 v-1.2 M371.85 443.00 v1.2 M335.50 551.53 h1.2 M480.90 551.53 h-1.2 M390.02 587.70 v-1.2 M390.02 443.00 v1.2 M335.50 533.44 h1.2 M480.90 533.44 h-1.2 M408.20 587.70 v-1.2 M408.20 443.00 v1.2 M335.50 515.35 h1.2 M480.90 515.35 h-1.2 M426.38 587.70 v-1.2 M426.38 443.00 v1.2 M335.50 497.26 h1.2 M480.90 497.26 h-1.2 M444.55 587.70 v-1.2 M444.55 443.00 v1.2 M335.50 479.18 h1.2 M480.90 479.18 h-1.2 M462.72 587.70 v-1.2 M462.72 443.00 v1.2 M335.50 461.09 h1.2 M480.90 461.09 h-1.2 M480.90 587.70 v-1.2 M480.90 443.00 v1.2 M335.50 443.00 h1.2 M480.90 443.00 h-1.2" stroke="#999" stroke-width="0.35" fill="none"/>
<text x="335.50" y="593.90" text-anchor="middle" style="font-size:5.0px;fill:#303030">-1.5</text>
<text x="333.80" y="589.40" text-anchor="end" style="font-size:5.0px;fill:#303030">-1.5</text>
<text x="353.68" y="593.90" text-anchor="middle" style="font-size:5.0px;fill:#303030">-1</text>
<text x="333.80" y="571.31" text-anchor="end" style="font-size:5.0px;fill:#303030">-1</text>
<text x="371.85" y="593.90" text-anchor="middle" style="font-size:5.0px;fill:#303030">-0.5</text>
<text x="333.80" y="553.23" text-anchor="end" style="font-size:5.0px;fill:#303030">-0.5</text>
<text x="390.02" y="593.90" text-anchor="middle" style="font-size:5.0px;fill:#303030">0</text>
<text x="333.80" y="535.14" text-anchor="end" style="font-size:5.0px;fill:#303030">0</text>
<text x="408.20" y="593.90" text-anchor="middle" style="font-size:5.0px;fill:#303030">0.5</text>
<text x="333.80" y="517.05" text-anchor="end" style="font-size:5.0px;fill:#303030">0.5</text>
<text x="426.38" y="593.90" text-anchor="middle" style="font-size:5.0px;fill:#303030">1</text>
<text x="333.80" y="498.96" text-anchor="end" style="font-size:5.0px;fill:#303030">1</text>
<text x="444.55" y="593.90" text-anchor="middle" style="font-size:5.0px;fill:#303030">1.5</text>
<text x="333.80" y="480.88" text-anchor="end" style="font-size:5.0px;fill:#303030">1.5</text>
<text x="462.72" y="593.90" text-anchor="middle" style="font-size:5.0px;fill:#303030">2</text>
<text x="333.80" y="462.79" text-anchor="end" style="font-size:5.0px;fill:#303030">2</text>
<text x="480.90" y="593.90" text-anchor="middle" style="font-size:5.0px;fill:#303030">2.5</text>
<text x="333.80" y="444.70" text-anchor="end" style="font-size:5.0px;fill:#303030">2.5</text>
<text x="408.20" y="599.70" text-anchor="middle" style="font-size:5.3px;font-weight:bold;fill:#303030;stroke:#303030;stroke-width:0.12px"><tspan style="font-style:italic">x</tspan> position (m)</text>
<text transform="translate(324.30 515.35) rotate(-90)" text-anchor="middle" style="font-size:5.3px;font-weight:bold;fill:#303030;stroke:#303030;stroke-width:0.12px"><tspan style="font-style:italic">y</tspan> position (m)</text>
<text x="403.40" y="625.90" text-anchor="middle" style="font-size:12.6px;fill:#111">(<tspan style="font-weight:bold">h</tspan>)</text>
</g>
</svg></body></html>
